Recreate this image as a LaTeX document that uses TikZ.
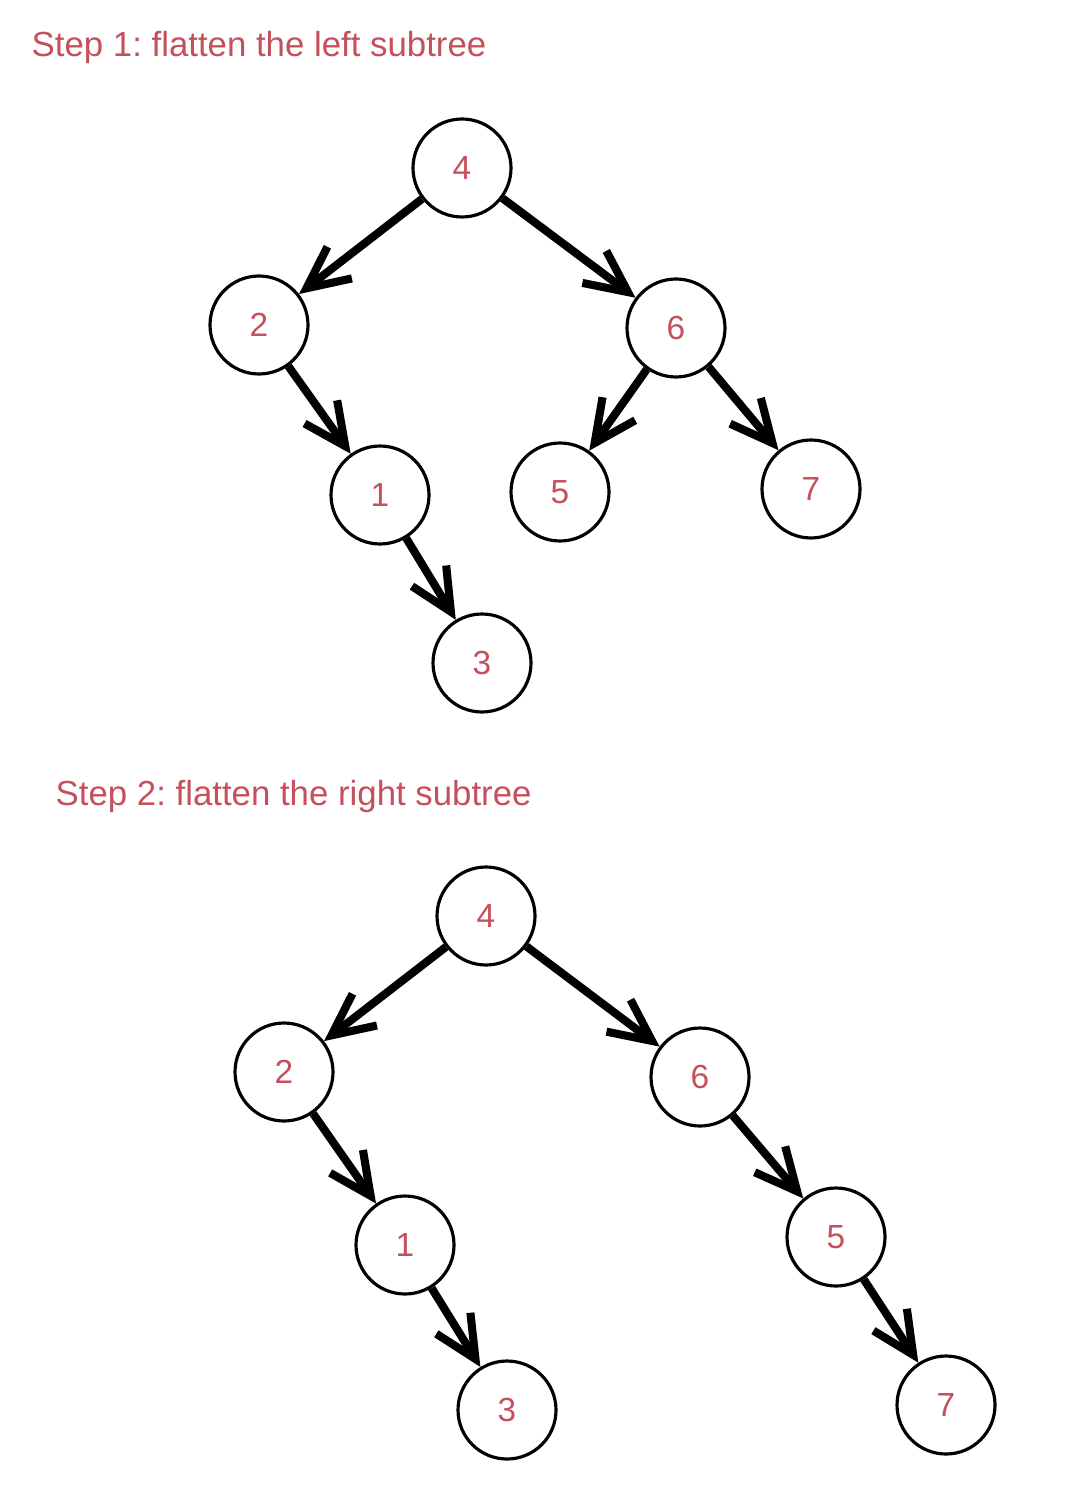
\documentclass[tikz,border=0pt]{standalone}
\usepackage{fontspec}
\setmainfont{Liberation Sans}
\usepackage{xcolor}
\usetikzlibrary{arrows.meta}
\definecolor{labelred}{RGB}{196,80,92}

\begin{document}
\frenchspacing
\begin{tikzpicture}[x=1cm,y=-1cm,
  treenode/.style={circle, draw, line width=0.9pt, minimum size=0.98cm, inner sep=0pt, text=labelred, font=\fontsize{9.5}{11}\selectfont},
  childedge/.style={line width=2.3pt, -{Straight Barb[length=0.42cm,width=0.4cm]}},
  steptitle/.style={anchor=base west, inner sep=0pt, text=labelred, font=\fontsize{9.9}{12}\selectfont}]
  \useasboundingbox (0,0) rectangle (10.8,15.08);
  % Step 1: left subtree flattened
  \node[steptitle] (title1) at (0.31,0.57) {Step 1: flatten the left subtree};
  \node[treenode] (a4) at (4.62,1.68) {4};
  \node[treenode] (a2) at (2.59,3.25) {2};
  \node[treenode] (a6) at (6.76,3.28) {6};
  \node[treenode] (a1) at (3.80,4.95) {1};
  \node[treenode] (a5) at (5.60,4.92) {5};
  \node[treenode] (a7) at (8.11,4.89) {7};
  \node[treenode] (a3) at (4.82,6.63) {3};
  \draw[childedge] (a4) -- (a2);
  \draw[childedge] (a4) -- (a6);
  \draw[childedge] (a2) -- (a1);
  \draw[childedge] (a1) -- (a3);
  \draw[childedge] (a6) -- (a5);
  \draw[childedge] (a6) -- (a7);
  % Step 2: right subtree flattened
  \node[steptitle] (title2) at (0.55,8.05) {Step 2: flatten the right subtree};
  \node[treenode] (b4) at (4.86,9.16) {4};
  \node[treenode] (b2) at (2.84,10.72) {2};
  \node[treenode] (b6) at (7.00,10.77) {6};
  \node[treenode] (b1) at (4.05,12.45) {1};
  \node[treenode] (b5) at (8.36,12.37) {5};
  \node[treenode] (b7) at (9.46,14.05) {7};
  \node[treenode] (b3) at (5.07,14.10) {3};
  \draw[childedge] (b4) -- (b2);
  \draw[childedge] (b4) -- (b6);
  \draw[childedge] (b2) -- (b1);
  \draw[childedge] (b1) -- (b3);
  \draw[childedge] (b6) -- (b5);
  \draw[childedge] (b5) -- (b7);
\end{tikzpicture}
\end{document}
